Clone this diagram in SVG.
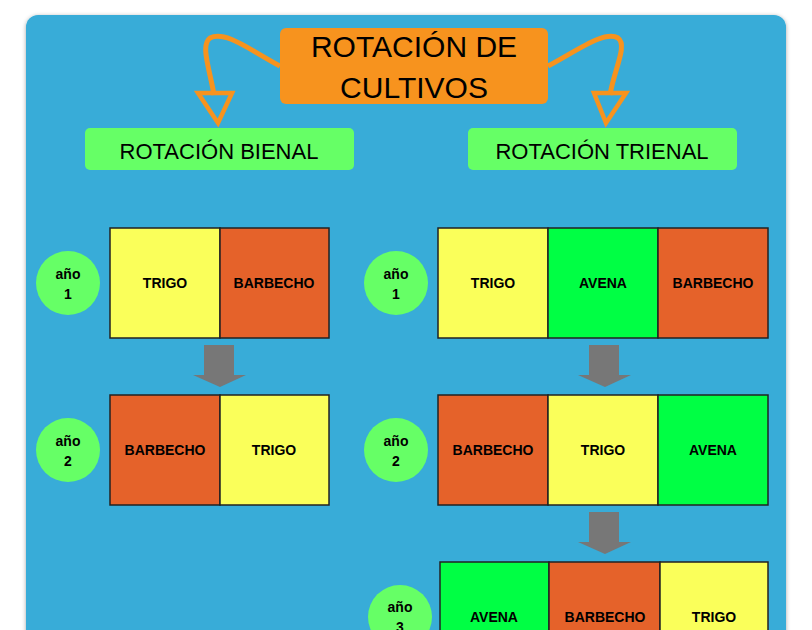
<svg xmlns="http://www.w3.org/2000/svg" width="812" height="630" viewBox="0 0 812 630">
<defs>
<style>
text{font-family:"Liberation Sans",Arial,sans-serif;text-anchor:middle;fill:#000}
.c{font-size:14px;font-weight:bold}
.y{fill:#FAFF5A;stroke:#222;stroke-width:1.5}
.o{fill:#E5622A;stroke:#222;stroke-width:1.5}
.g{fill:#00FF44;stroke:#222;stroke-width:1.5}
.yr{fill:#66FF66}
.ar{fill:#777}
.oc{fill:none;stroke:#F7931E;stroke-width:5}
.ah{fill:none;stroke:#F7931E;stroke-width:4.5;stroke-linejoin:miter}
</style>
<filter id="sh" x="-5%" y="-5%" width="110%" height="110%"><feDropShadow dx="0" dy="1" stdDeviation="2" flood-opacity="0.35"/></filter>
</defs>
<rect width="812" height="630" fill="#fff"/>
<rect x="26" y="15" width="760" height="640" rx="12" fill="#38ACD8" filter="url(#sh)"/>
<g id="connectors">
<path class="oc" d="M280,66 C250,50 225,30 210,38 C200,45 210,70 214,95"/>
<polygon class="ah" points="198,93 232,93 218,123"/>
<path class="oc" d="M548,66 C578,50 605,30 618,38 C628,45 614,70 610,95"/>
<polygon class="ah" points="594,93 626,93 606,123"/>
<polygon class="ar" points="204,345 234,345 234,375 246,375 220,387 193,375 204,375"/>
<polygon class="ar" points="589,345 619,345 619,375 631,375 605,387 578,375 589,375"/>
<polygon class="ar" points="589,512 619,512 619,542 631,542 605,554 578,542 589,542"/>
</g>
<g id="title"><rect x="280" y="28" width="268" height="76" rx="6" fill="#F7931E"/>
<text x="414" y="57" font-size="30">ROTACIÓN DE</text><text x="414" y="98" font-size="30">CULTIVOS</text></g>
<g id="bienal"><rect class="yr" x="85" y="128" width="269" height="42" rx="5"/><text x="219" y="159" font-size="22">ROTACIÓN BIENAL</text></g>
<g id="trienal"><rect class="yr" x="468" y="128" width="269" height="42" rx="5"/><text x="602" y="159" font-size="22">ROTACIÓN TRIENAL</text></g>
<g id="b1"><rect class="y" x="110" y="228" width="110" height="110"/><rect class="o" x="220" y="228" width="109" height="110"/>
<text class="c" x="165" y="288">TRIGO</text><text class="c" x="274" y="288">BARBECHO</text></g>
<g id="b2"><rect class="o" x="110" y="395" width="110" height="110"/><rect class="y" x="220" y="395" width="109" height="110"/>
<text class="c" x="165" y="455">BARBECHO</text><text class="c" x="274" y="455">TRIGO</text></g>
<g id="t1"><rect class="y" x="438" y="228" width="110" height="110"/><rect class="g" x="548" y="228" width="110" height="110"/><rect class="o" x="658" y="228" width="110" height="110"/>
<text class="c" x="493" y="288">TRIGO</text><text class="c" x="603" y="288">AVENA</text><text class="c" x="713" y="288">BARBECHO</text></g>
<g id="t2"><rect class="o" x="438" y="395" width="110" height="110"/><rect class="y" x="548" y="395" width="110" height="110"/><rect class="g" x="658" y="395" width="110" height="110"/>
<text class="c" x="493" y="455">BARBECHO</text><text class="c" x="603" y="455">TRIGO</text><text class="c" x="713" y="455">AVENA</text></g>
<g id="t3"><rect class="g" x="440" y="562" width="109" height="110"/><rect class="o" x="549" y="562" width="111" height="110"/><rect class="y" x="660" y="562" width="108" height="110"/>
<text class="c" x="494" y="622">AVENA</text><text class="c" x="605" y="622">BARBECHO</text><text class="c" x="714" y="622">TRIGO</text></g>
<g id="a1"><circle class="yr" cx="68" cy="283" r="32"/><text class="c" x="68" y="279" font-size="16">año</text><text class="c" x="68" y="299" font-size="16">1</text></g>
<g id="a2"><circle class="yr" cx="68" cy="450" r="32"/><text class="c" x="68" y="446" font-size="16">año</text><text class="c" x="68" y="466" font-size="16">2</text></g>
<g id="a3"><circle class="yr" cx="396" cy="283" r="32"/><text class="c" x="396" y="279" font-size="16">año</text><text class="c" x="396" y="299" font-size="16">1</text></g>
<g id="a4"><circle class="yr" cx="396" cy="450" r="32"/><text class="c" x="396" y="446" font-size="16">año</text><text class="c" x="396" y="466" font-size="16">2</text></g>
<g id="a5"><circle class="yr" cx="400" cy="617" r="32"/><text class="c" x="400" y="612" font-size="16">año</text><text class="c" x="400" y="632" font-size="16">3</text></g>
</svg>
